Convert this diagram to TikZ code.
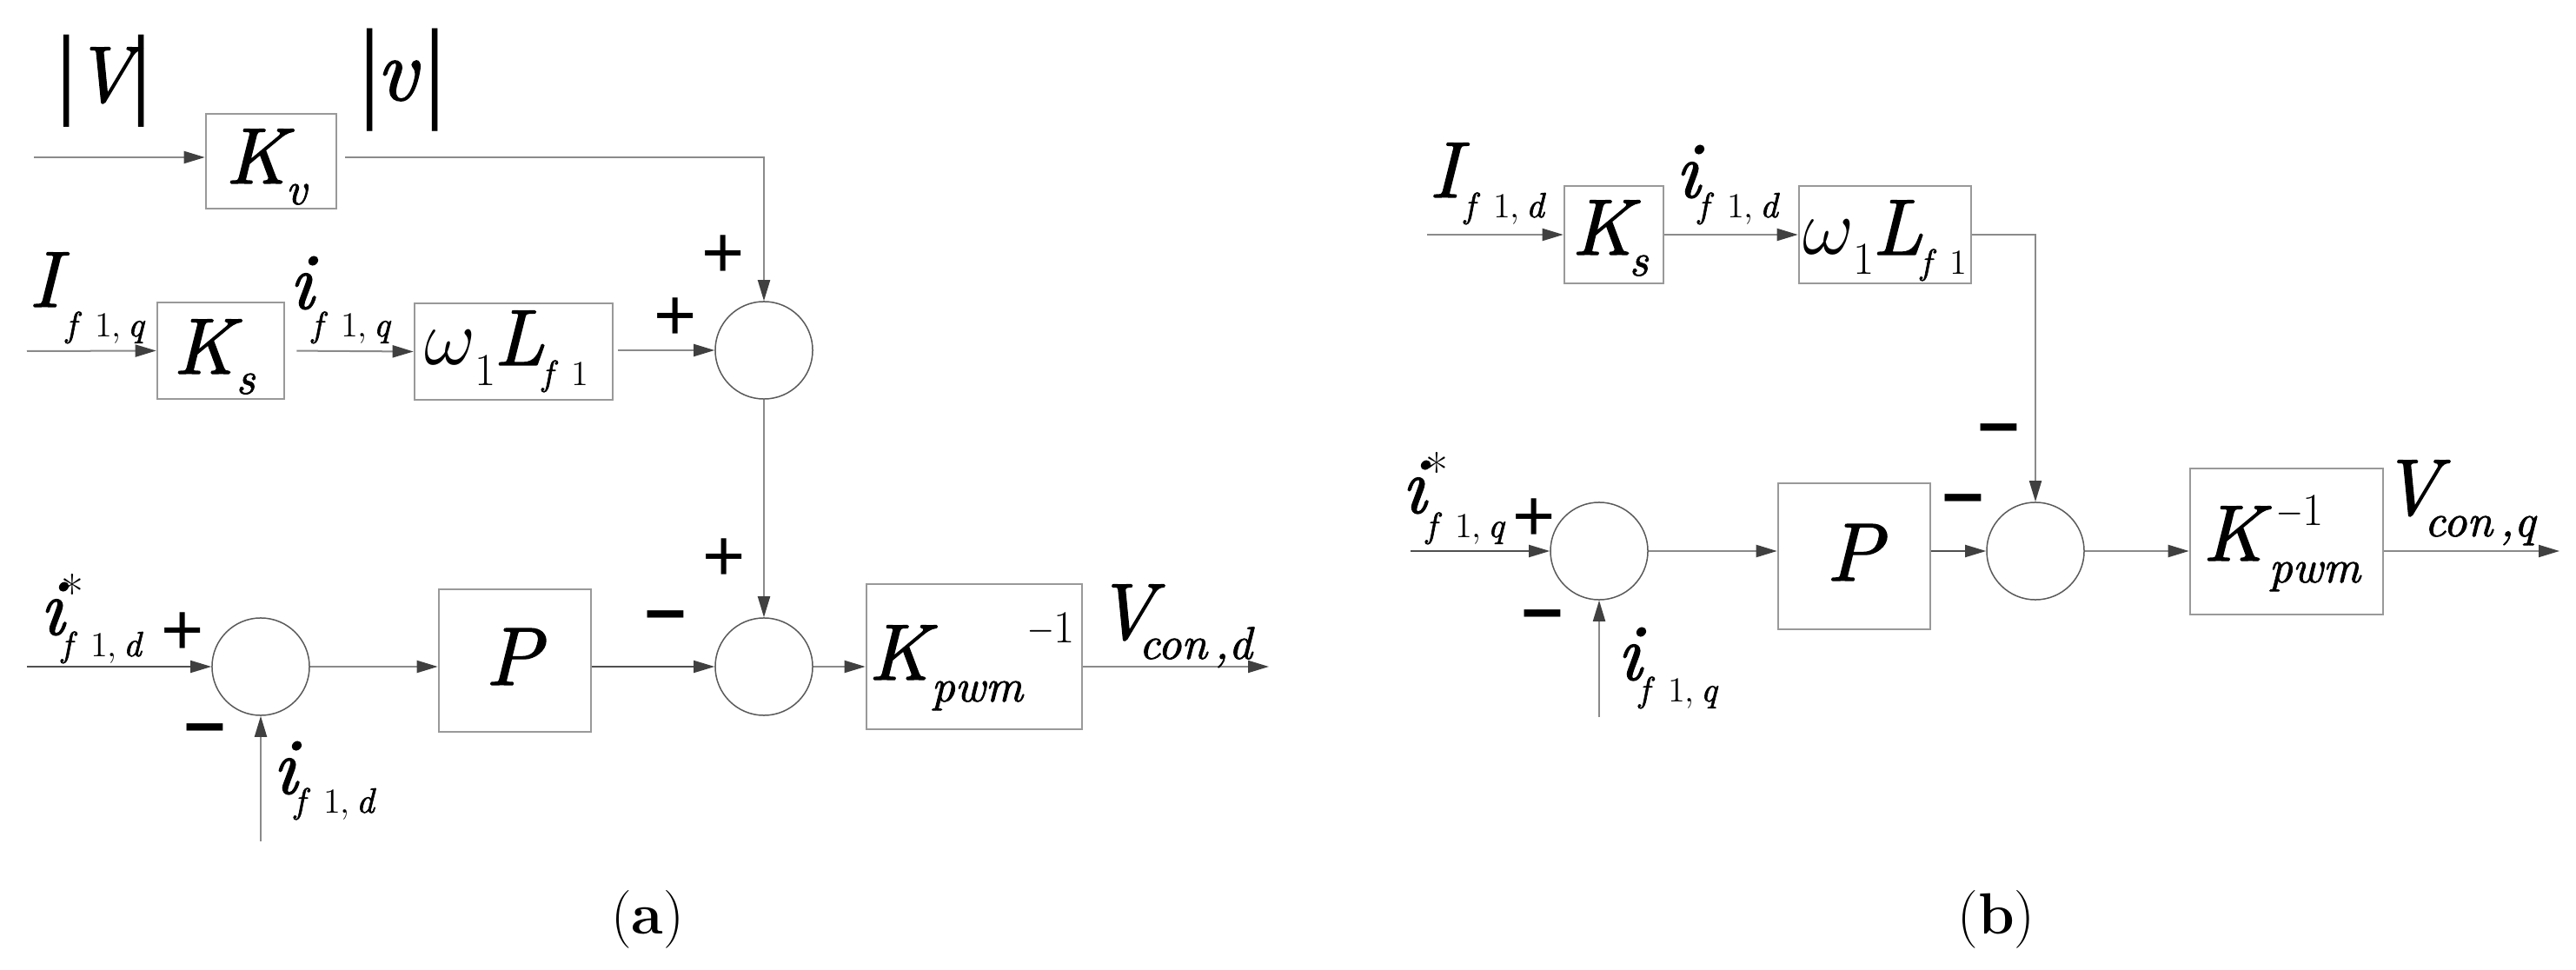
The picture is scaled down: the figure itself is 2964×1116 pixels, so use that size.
\documentclass[tikz,border=0pt]{standalone}
\usepackage{fix-cm}
\usepackage{fontspec}
\newfontfamily\sansfnt{Liberation Sans}
\newfontfamily\lmr{lmroman10-regular.otf}[ItalicFont=lmroman10-italic.otf,ItalicFeatures={FakeBold=1.5}]
\usetikzlibrary{arrows.meta}
\definecolor{lngray}{HTML}{8A8A8A}
\definecolor{lndark}{HTML}{505050}
\definecolor{tipgray}{HTML}{404040}
\definecolor{boxgray}{HTML}{999999}
\definecolor{circgray}{HTML}{5A5A5A}
\newcommand\mf{\lmr\fontsize{26}{26}\selectfont\itshape}
\newcommand\subfnt{\lmr\fontsize{15}{15}\selectfont\itshape}
\newcommand\supfnt{\fontsize{15}{15}\selectfont\upshape}
\newcommand\tnf{\lmr\fontsize{11.5}{11.5}\selectfont\itshape}
\newcommand\fsub[1]{{\tnf f\hspace{0.21cm}\normalfont\fontsize{11.5}{11.5}\selectfont 1,\hspace{0.07cm}\tnf #1}}
\newcommand\barA{\raisebox{-0.05cm}{\scalebox{1}[2.2]{\sansfnt\fontsize{14.5}{14.5}\selectfont\bfseries|}}}
\newcommand\barB{\raisebox{-0.05cm}{\scalebox{1}[2.45]{\sansfnt\fontsize{14.5}{14.5}\selectfont\bfseries|}}}
\newcommand\lab[4]{{\makebox[#1][l]{#2}}\raisebox{-#3}{#4}}
\newcommand\om{{\fontsize{26}{26}\selectfont$\omega$}}
\newcommand\mone{\scalebox{0.75}[1]{−}1}
\begin{document}
\begin{tikzpicture}[x=0.01cm,y=-0.01cm,
 ln/.style={draw=lngray,line width=0.02cm},
 lnd/.style={draw=lndark,line width=0.018cm},
 arr/.style={-{Triangle[length=0.24cm,width=0.14cm,color=tipgray]}},
 blk/.style={draw=boxgray,line width=0.025cm,inner sep=0,rectangle},
 sumc/.style={draw=circgray,line width=0.015cm,circle,minimum size=1.12cm,inner sep=0},
 txt/.style={inner sep=0,anchor=base west},
 sgn/.style={inner sep=0,font=\sansfnt\fontsize{24}{24}\selectfont},
 sgnm/.style={inner sep=0,font=\sansfnt\bfseries\fontsize{24}{24}\selectfont},
 capt/.style={inner sep=0,font=\fontsize{19}{19}\selectfont}]
\useasboundingbox (0,0) rectangle (2964,1116);

% ---------------- panel (a) ----------------
\node[blk,minimum width=1.50cm,minimum height=1.09cm] (Kv) at (312,185.5) {};
\node[blk,minimum width=1.46cm,minimum height=1.11cm] (Ksa) at (254,403.5) {};
\node[blk,minimum width=2.28cm,minimum height=1.11cm] (Lfa) at (591,404.5) {};
\node[blk,minimum width=1.75cm,minimum height=1.64cm] (Pa) at (592.5,760) {};
\node[blk,minimum width=2.48cm,minimum height=1.67cm] (Kpa) at (1121,755.5) {};
\node[sumc] (ca1) at (879,403) {};
\node[sumc] (ca2) at (879,767) {};
\node[sumc] (ca3) at (300,767) {};

\coordinate (inV) at (39,181);
\coordinate (inIq) at (31,404);
\coordinate (inid) at (31,767);
\coordinate (fbd) at (300,968);
\coordinate (outd) at (1460,767);

\draw[ln,arr] (inV) -- (inV -| Kv.west);
\draw[ln,arr,shorten <=0.09cm] (Kv.east |- inV) -| (ca1.north);
\draw[ln,arr] (inIq) -- (Ksa.west);
\draw[ln,arr,shorten <=0.13cm] (Ksa.east) -- (Lfa.west);
\draw[ln,arr,shorten <=0.05cm] (Lfa.east |- ca1) -- (ca1.west);
\draw[ln,arr] (ca1.south) -- (ca2.north);
\draw[lnd,arr] (inid) -- (ca3.west);
\draw[ln,arr] (ca3.east) -- (ca3 -| Pa.west);
\draw[lnd,arr] (Pa.east |- ca2) -- (ca2.west);
\draw[ln,arr] (ca2.east) -- (ca2 -| Kpa.west);
\draw[ln,arr] (Kpa.east |- outd) -- (outd);
\draw[ln,arr] (fbd) -- (ca3.south);

\node[txt] (tV) at (69,117) {\barA\hspace{0.01cm}{\mf V}\hspace{0.03cm}\barA};
\node[txt] (tv) at (418,119) {\barB\raisebox{0.04cm}{\lmr\fontsize{29}{29}\selectfont\itshape v}\hspace{0.14cm}\barB};
\node[txt] (tKv) at (259,211) {\lab{0.69cm}{\mf K}{0.24cm}{\subfnt v}};
\node[txt] (tIq) at (33,353) {\lab{0.42cm}{\mf I}{0.34cm}{\fsub{q}}};
\node[txt] (tiq) at (332,355) {\lab{0.26cm}{\mf i}{0.32cm}{\fsub{q}}};
\node[txt] (tKsa) at (199,430) {\lab{0.72cm}{\mf K}{0.23cm}{\subfnt s}};
\node[txt] (tLa) at (488,420) {\makebox[0.58cm][l]{\om}\makebox[0.22cm][l]{\raisebox{-0.23cm}{\supfnt 1}}\lab{0.55cm}{\mf L}{0.23cm}{\tnf f\hspace{0.21cm}\normalfont\fontsize{11.5}{11.5}\selectfont 1}};
\node[txt] (tisd) at (45,730) {{\makebox[0.25cm][l]{\mf i}}\rlap{\raisebox{0.27cm}{\fontsize{16}{16}\selectfont *}}\raisebox{-0.25cm}{\fsub{d}}};
\node[txt] (tid) at (313,913) {\lab{0.25cm}{\mf i}{0.22cm}{\fsub{d}}};
\node[txt] (tPa) at (558,788) {\lmr\fontsize{27}{27}\selectfont\itshape P};
\node[txt] (tKpa) at (999,782) {\lab{0.72cm}{\mf K}{0.25cm}{\makebox[1.12cm][l]{\subfnt pwm}}\raisebox{0.42cm}{\supfnt\mone}};
\node[txt] (tVd) at (1260,735) {\lab{0.50cm}{\mf V}{0.23cm}{\subfnt con\,,d}};

\node[sgn] (pa1) at (832,295) {+};
\node[sgn] (pa2) at (777,367) {+};
\node[sgn] (pa3) at (833,644) {+};
\node[sgn] (pa4) at (210,729) {+};
\node[sgnm] (ma1) at (766,716) {–};
\node[sgnm] (ma2) at (236,846) {–};

\node[capt] (capa) at (745,1058) {(\textbf{a})};

% ---------------- panel (b) ----------------
\node[blk,minimum width=1.14cm,minimum height=1.12cm] (Ksb) at (1857,270) {};
\node[blk,minimum width=1.98cm,minimum height=1.12cm] (Lfb) at (2169,270) {};
\node[blk,minimum width=1.75cm,minimum height=1.68cm] (Pb) at (2133.5,640) {};
\node[blk,minimum width=2.22cm,minimum height=1.68cm] (Kpb) at (2631,623) {};
\node[sumc] (cb1) at (1840,634) {};
\node[sumc] (cb2) at (2342,634) {};

\coordinate (inId) at (1642,270);
\coordinate (iniq) at (1623,634);
\coordinate (fbq) at (1840,825);
\coordinate (outq) at (2945,634);

\draw[ln,arr] (inId) -- (Ksb.west);
\draw[ln,arr] (Ksb.east) -- (Lfb.west);
\draw[ln,arr] (Lfb.east) -| (cb2.north);
\draw[lnd,arr] (iniq) -- (cb1.west);
\draw[ln,arr] (cb1.east) -- (cb1 -| Pb.west);
\draw[lnd,arr] (Pb.east |- cb2) -- (cb2.west);
\draw[ln,arr] (cb2.east) -- (cb2 -| Kpb.west);
\draw[ln,arr] (Kpb.east |- outq) -- (outq);
\draw[ln,arr] (fbq) -- (cb1.south);

\node[txt] (tId) at (1644,227) {\lab{0.40cm}{\mf I}{0.23cm}{\fsub{d}}};
\node[txt] (tKsb) at (1808,293) {\lab{0.66cm}{\mf K}{0.24cm}{\subfnt s}};
\node[txt] (tidb) at (1927,227) {\lab{0.26cm}{\mf i}{0.23cm}{\fsub{d}}};
\node[txt] (tLb) at (2074,293) {\makebox[0.58cm][l]{\om}\makebox[0.22cm][l]{\raisebox{-0.22cm}{\supfnt 1}}\lab{0.55cm}{\mf L}{0.22cm}{\tnf f\hspace{0.21cm}\normalfont\fontsize{11.5}{11.5}\selectfont 1}};
\node[txt] (tisq) at (1612,590) {{\makebox[0.28cm][l]{\mf i}}\rlap{\raisebox{0.27cm}{\fontsize{16}{16}\selectfont *}}\raisebox{-0.28cm}{\fsub{q}}};
\node[txt] (tPb) at (2101,668) {\lmr\fontsize{27}{27}\selectfont\itshape P};
\node[txt] (tKpb) at (2534,645) {{\makebox[0.72cm][l]{\mf K}}\rlap{\raisebox{0.40cm}{\kern0.14cm\supfnt\mone}}\raisebox{-0.25cm}{\kern0.04cm\subfnt pwm}};
\node[txt] (tVq) at (2739,592) {\lab{0.50cm}{\mf V}{0.25cm}{\subfnt con\,,q}};
\node[txt] (tiqb) at (1860,782) {\lab{0.25cm}{\mf i}{0.25cm}{\fsub{q}}};

\node[sgnm] (mb1) at (2300,501) {–};
\node[sgnm] (mb2) at (2259,582) {–};
\node[sgn] (pb1) at (1765,598) {+};
\node[sgnm] (mb3) at (1775,715) {–};

\node[capt] (capb) at (2297,1058) {(\textbf{b})};
\end{tikzpicture}
\end{document}
